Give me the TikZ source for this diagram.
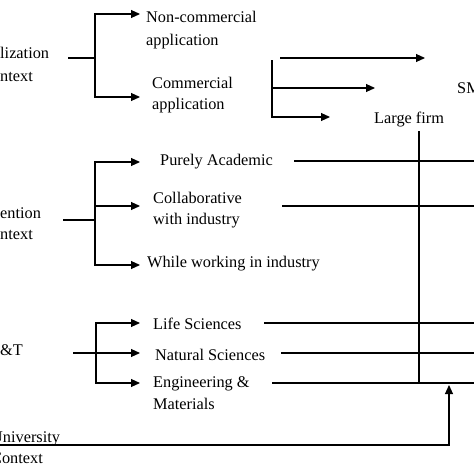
\documentclass[tikz,border=0pt]{standalone}
\usepackage{fontspec}
\setmainfont{Liberation Serif}
\usetikzlibrary{positioning, arrows.meta}

\begin{document}
\begin{tikzpicture}[
    x=1pt, y=-1pt,
    arrow/.style={-{Triangle[length=9pt, width=8pt]}, line width=1.1pt},
    link/.style={line width=1.1pt},
    label/.style={font=\fontsize{16.3}{21}\selectfont, inner sep=0pt, anchor=west,
        align=left, text height=11pt, text depth=3.5pt}
]
    \useasboundingbox (0,0) rectangle (474,474);
    \coordinate (right) at (474,0);

    % Context labels (cut at the left edge)
    \node[label] (comm) at (0,78) {lization\\[2pt]ntext};
    \node[label] (inv) at (0,236) {ention\\ntext};
    \node[label] (st) at (0,352) {\&T};
    \node[label] (univ) at (-9,460) {University\\Context};

    % Commercialization branches
    \node[label] (noncomm) at (146,42) {Non-commercial\\[2pt]application};
    \node[label] (commapp) at (152,106) {Commercial\\application};
    \coordinate (c-stub) at (68,58);
    \coordinate (c-fork) at (95,58);
    \coordinate (c-top) at (140,14);
    \coordinate (c-bot) at (140,97);
    \draw[link] (c-stub) -- (c-fork);
    \draw[arrow] (c-fork) |- (c-top);
    \draw[arrow] (c-fork) |- (c-bot);

    % Firms
    \node[label] (sme) at (457,90) {SM};
    \node[label] (large) at (374,120) {Large firm};
    \coordinate (f-top) at (272,60);
    \coordinate (f-fork) at (272,88);
    \coordinate (f-mid) at (375,88);
    \coordinate (f-bot) at (330,117);
    \coordinate (f-smeA) at (280,58);
    \coordinate (f-smeB) at (425,58);
    \draw[link] (f-top) -- (f-fork);
    \draw[arrow] (f-fork) -- (f-mid);
    \draw[arrow] (f-fork) |- (f-bot);
    \draw[arrow] (f-smeA) -- (f-smeB);
    \coordinate (l-top) at (419,131);
    \coordinate (l-bot) at (419,383);
    \draw[link] (l-top) -- (l-bot);

    % Invention branches
    \node[label] (academic) at (160,162) {Purely Academic};
    \node[label] (collab) at (153,221) {Collaborative\\with industry};
    \node[label] (working) at (147,264) {While working in industry};
    \coordinate (i-stub) at (63,220);
    \coordinate (i-fork) at (95,220);
    \coordinate (i-top) at (140,162);
    \coordinate (i-mid) at (140,206);
    \coordinate (i-bot) at (140,265);
    \draw[link] (i-stub) -- (i-fork);
    \draw[arrow] (i-fork) |- (i-top);
    \draw[arrow] (i-fork) |- (i-bot);
    \draw[arrow] (i-fork |- i-mid) -- (i-mid);

    % S&T branches
    \node[label] (life) at (153,326) {Life Sciences};
    \node[label] (natural) at (155,357) {Natural Sciences};
    \node[label] (eng) at (153,406) {Engineering \&\\[1pt]Materials};
    \coordinate (s-stub) at (73,353);
    \coordinate (s-fork) at (96,353);
    \coordinate (s-top) at (140,323);
    \coordinate (s-mid) at (140,353);
    \coordinate (s-bot) at (140,383);
    \draw[arrow] (s-stub) -- (s-mid);
    \draw[arrow] (s-fork) |- (s-top);
    \draw[arrow] (s-fork) |- (s-bot);

    % Lines running off to the right
    \foreach \name/\x/\y in {academic/294/161, collab/282/206, life/264/323,
        natural/281/353, eng/272/383}
        \draw[link] (\x,\y) coordinate (\name-line) -- (\name-line -| right);

    % University context
    \coordinate (u-start) at (0,445);
    \coordinate (u-tip) at (449,385);
    \draw[arrow] (u-start) -| (u-tip);
\end{tikzpicture}
\end{document}
